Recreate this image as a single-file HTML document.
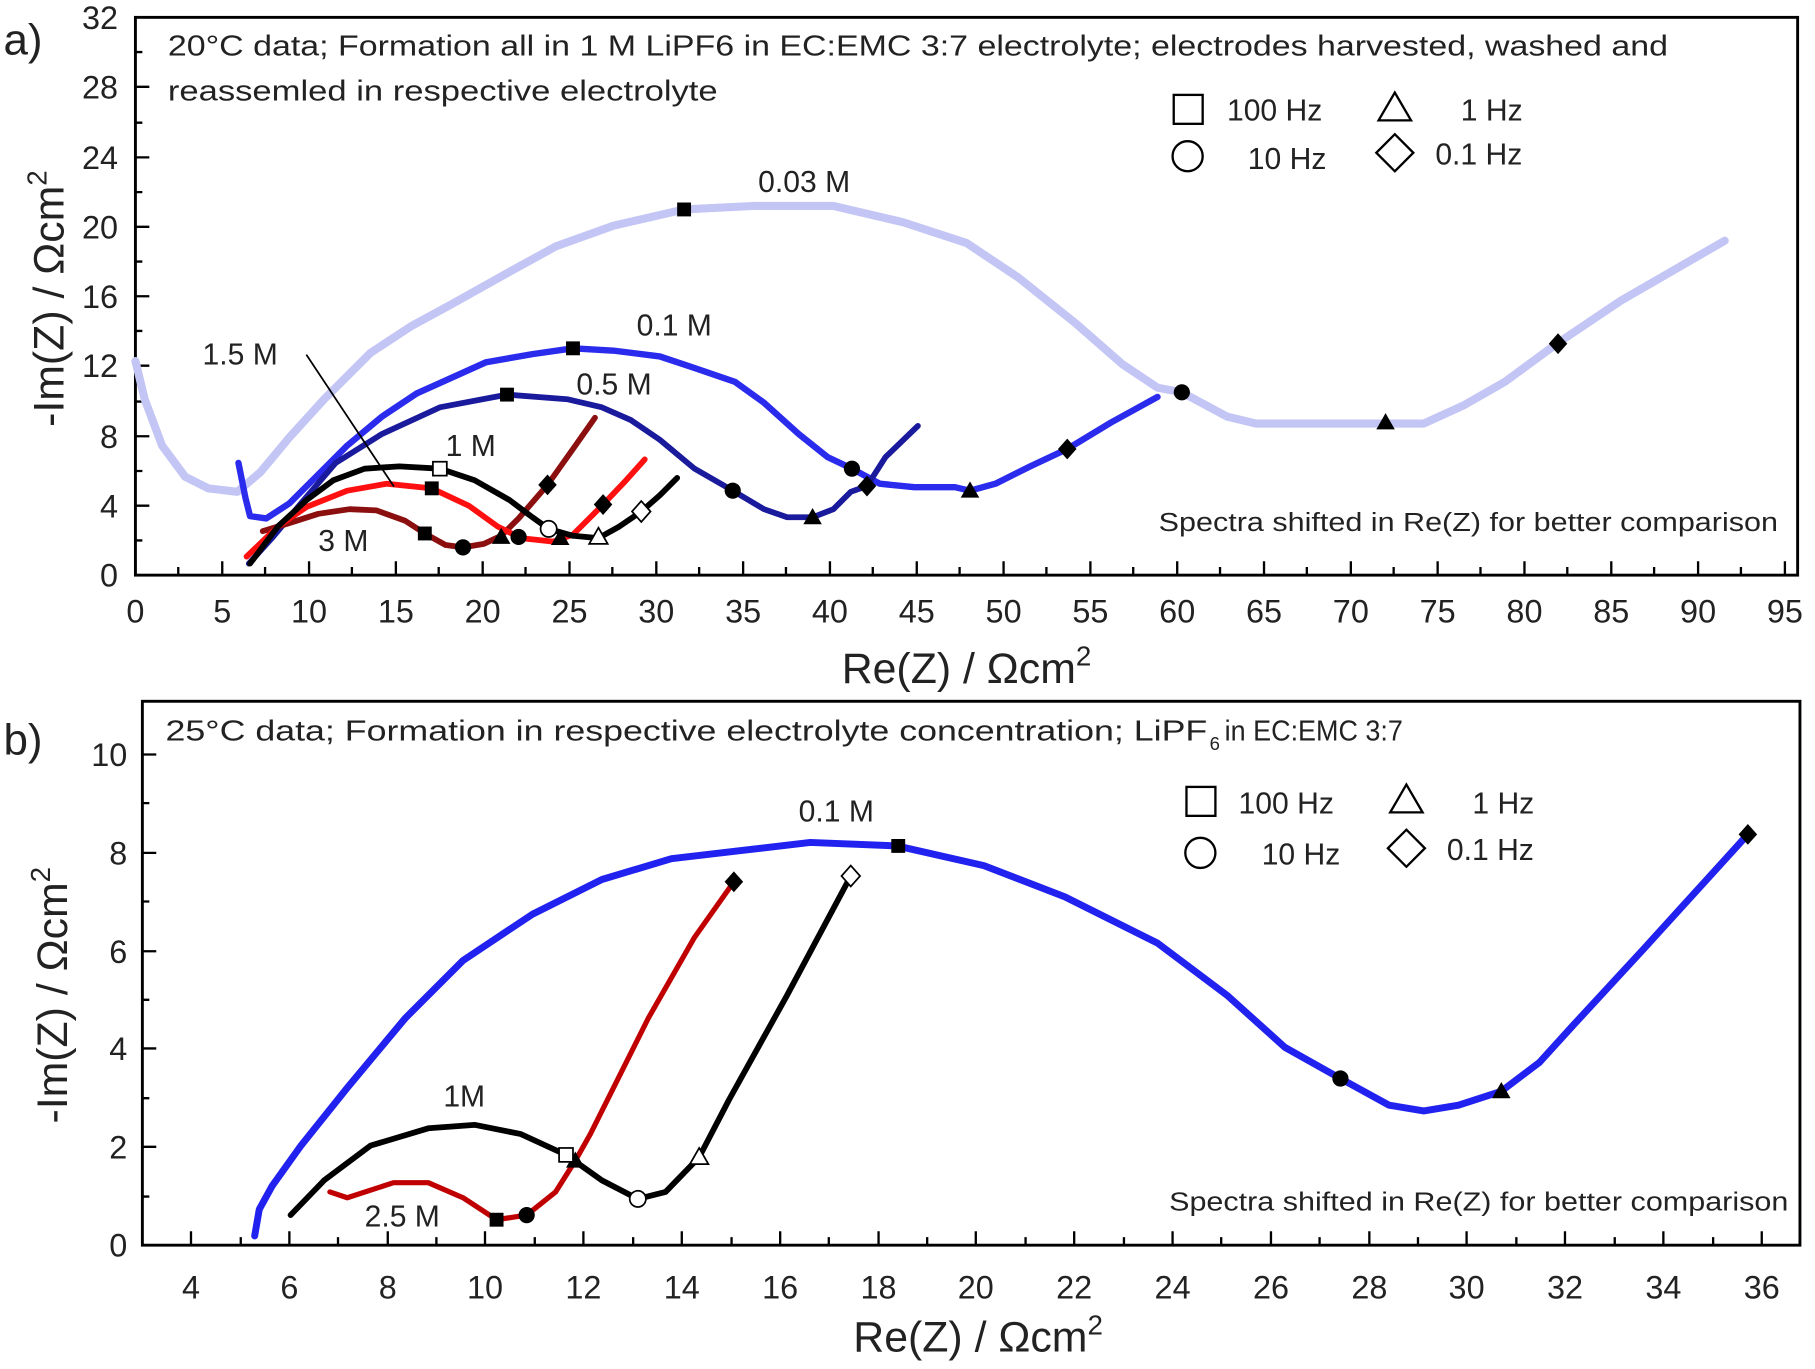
<!DOCTYPE html>
<html><head><meta charset="utf-8"><style>
html,body{margin:0;padding:0;background:#fff;}
svg{display:block;}
text{font-family:"Liberation Sans",sans-serif;fill:#222;}
</style></head><body>
<svg width="1815" height="1369" viewBox="0 0 1568 1183" preserveAspectRatio="none" xmlns="http://www.w3.org/2000/svg">
<defs>
<g id="sq"><rect x="-6" y="-6" width="12" height="12"/></g>
<g id="ci"><circle r="7"/></g>
<g id="tr"><path d="M0,-8 L8,6 L-8,6Z"/></g>
<g id="di"><path d="M0,-9 L8,0 L0,9 L-8,0Z"/></g>
</defs>
<!-- PANEL A -->
<rect x="117" y="15" width="1436" height="482" fill="none" stroke="#000" stroke-width="2.5"/>
<g stroke="#000" stroke-width="2">
<path d="M117,497h12M117,437h12M117,377h12M117,316h12M117,256h12M117,196h12M117,136h12M117,75h12M117,15h12"/>
<path d="M117,467h6M117,407h6M117,347h6M117,286h6M117,226h6M117,166h6M117,106h6M117,45h6"/>
<path d="M117,497v-12M192,497v-12M267,497v-12M342,497v-12M417,497v-12M492,497v-12M567,497v-12M642,497v-12M717,497v-12M792,497v-12M867,497v-12M942,497v-12M1017,497v-12M1092,497v-12M1167,497v-12M1242,497v-12M1317,497v-12M1392,497v-12M1467,497v-12M1542,497v-12"/>
<path d="M154,497v-7M229,497v-7M304,497v-7M379,497v-7M454,497v-7M529,497v-7M604,497v-7M679,497v-7M754,497v-7M829,497v-7M904,497v-7M979,497v-7M1054,497v-7M1129,497v-7M1204,497v-7M1279,497v-7M1354,497v-7M1429,497v-7M1504,497v-7"/>
</g>
<g font-size="28" text-anchor="end">
<text x="102" y="507">0</text><text x="102" y="447">4</text><text x="102" y="387">8</text><text x="102" y="326">12</text><text x="102" y="266">16</text><text x="102" y="206">20</text><text x="102" y="146">24</text><text x="102" y="85">28</text><text x="102" y="25">32</text>
</g>
<g font-size="28" text-anchor="middle">
<text x="117" y="538">0</text><text x="192" y="538">5</text><text x="267" y="538">10</text><text x="342" y="538">15</text><text x="417" y="538">20</text><text x="492" y="538">25</text><text x="567" y="538">30</text><text x="642" y="538">35</text><text x="717" y="538">40</text><text x="792" y="538">45</text><text x="867" y="538">50</text><text x="942" y="538">55</text><text x="1017" y="538">60</text><text x="1092" y="538">65</text><text x="1167" y="538">70</text><text x="1242" y="538">75</text><text x="1317" y="538">80</text><text x="1392" y="538">85</text><text x="1467" y="538">90</text><text x="1542" y="538">95</text>
</g>
<text x="835" y="590" font-size="37" text-anchor="middle">Re(Z) / Ωcm<tspan dy="-15" font-size="24">2</tspan></text>
<text transform="translate(55,258) rotate(-90)" font-size="37" text-anchor="middle">-Im(Z) / Ωcm<tspan dy="-15" font-size="24">2</tspan></text>
<text x="3" y="47" font-size="38">a)</text>
<text x="145" y="48" font-size="25" textLength="1296" lengthAdjust="spacingAndGlyphs">20°C data; Formation all in 1 M LiPF6 in EC:EMC 3:7 electrolyte; electrodes harvested, washed and</text>
<text x="145" y="87" font-size="25" textLength="475" lengthAdjust="spacingAndGlyphs">reassemled in respective electrolyte</text>
<text x="1001" y="459" font-size="22" textLength="535" lengthAdjust="spacingAndGlyphs">Spectra shifted in Re(Z) for better comparison</text>
<g fill="none" stroke-linejoin="round" stroke-linecap="round">
<polyline stroke="#c3c5f5" stroke-width="7" points="117,312 125,345 140,385 160,412 180,422 205,425 225,408 250,378 280,345 320,305 355,282 390,263 440,235 480,213 530,195 591,181 650,178 720,178 780,192 835,210 880,240 930,280 970,315 1000,335 1021,339 1060,360 1085,366 1230,366 1265,350 1300,330 1345,297 1400,260 1490,208"/>
<polyline stroke="#2b2bee" stroke-width="5.5" points="206,400 212,430 216,446 230,448 250,435 275,410 300,385 330,360 360,340 420,313 460,306 495,301 530,303 570,308 600,318 635,330 660,348 690,375 715,395 736,405 760,418 790,421 825,421 838,424 860,418 890,403 922,388 960,365 1000,343"/>
<polyline stroke="#1a1a9c" stroke-width="5" points="215,487 235,465 260,435 290,400 330,375 380,352 438,341 490,345 520,352 545,363 570,380 600,405 633,424 660,440 680,447 702,447 720,440 735,425 749,420 765,395 793,368"/>
<polyline stroke="#8b0f0f" stroke-width="5" points="227,459 250,452 275,444 302,440 325,441 350,450 367,461 385,471 400,473 418,470 433,463 448,448 473,419 495,388 514,361"/>
<polyline stroke="#ff1010" stroke-width="5" points="213,481 240,455 265,438 300,424 334,418 373,422 405,437 430,455 450,465 478,468 495,462 521,436 540,416 557,397"/>
<polyline stroke="#000" stroke-width="5" points="216,487 240,455 265,432 288,415 315,405 345,403 380,405 410,415 440,432 460,447 474,457 495,463 517,465 535,455 554,442 570,428 585,413"/>
<line x1="265" y1="307" x2="340" y2="420" stroke="#000" stroke-width="1.5"/>
</g>
<g fill="#000">
<use href="#sq" x="591" y="181"/><use href="#ci" x="1021" y="339"/><use href="#tr" x="1197" y="365"/><use href="#di" x="1346" y="297"/>
<use href="#sq" x="495" y="301"/><use href="#ci" x="736" y="405"/><use href="#tr" x="838" y="424"/><use href="#di" x="922" y="388"/>
<use href="#sq" x="438" y="341"/><use href="#ci" x="633" y="424"/><use href="#tr" x="702" y="447"/><use href="#di" x="749" y="420"/>
<use href="#sq" x="367" y="461"/><use href="#ci" x="400" y="473"/><use href="#tr" x="433" y="464"/><use href="#di" x="473" y="419"/>
<use href="#sq" x="373" y="422"/><use href="#ci" x="448" y="464"/><use href="#tr" x="484" y="465"/><use href="#di" x="521" y="436"/>
</g>
<g fill="#fff" stroke="#000" stroke-width="1.5">
<use href="#sq" x="380" y="405"/><use href="#ci" x="474" y="457"/><use href="#tr" x="517" y="464"/><use href="#di" x="554" y="442"/>
</g>
<g font-size="26">
<text x="655" y="166">0.03 M</text><text x="550" y="290">0.1 M</text><text x="498" y="341">0.5 M</text><text x="385" y="394">1 M</text><text x="175" y="315">1.5 M</text><text x="275" y="476">3 M</text>
</g>
<g fill="none" stroke="#000" stroke-width="2">
<rect x="1014" y="82" width="25" height="25"/><circle cx="1026" cy="135" r="13"/>
<path d="M1205,80 L1219,104 L1191,104Z"/><path d="M1205,116 L1221,132 L1205,148 L1189,132Z"/>
</g>
<g font-size="26"><text x="1060" y="104">100 Hz</text><text x="1262" y="104">1 Hz</text><text x="1078" y="146">10 Hz</text><text x="1240" y="142">0.1 Hz</text></g>

<!-- PANEL B -->
<rect x="123" y="606" width="1432" height="470" fill="none" stroke="#000" stroke-width="2.5"/>
<g stroke="#000" stroke-width="2">
<path d="M123,1076h12M123,991h12M123,906h12M123,822h12M123,737h12M123,652h12"/>
<path d="M123,1034h6M123,949h6M123,864h6M123,779h6M123,694h6"/>
<path d="M165,1076v-12M250,1076v-12M335,1076v-12M419,1076v-12M504,1076v-12M589,1076v-12M674,1076v-12M759,1076v-12M843,1076v-12M928,1076v-12M1013,1076v-12M1098,1076v-12M1183,1076v-12M1267,1076v-12M1352,1076v-12M1437,1076v-12M1522,1076v-12"/>
<path d="M208,1076v-7M292,1076v-7M377,1076v-7M462,1076v-7M547,1076v-7M632,1076v-7M716,1076v-7M801,1076v-7M886,1076v-7M971,1076v-7M1055,1076v-7M1140,1076v-7M1225,1076v-7M1310,1076v-7M1395,1076v-7M1480,1076v-7"/>
</g>
<g font-size="28" text-anchor="end">
<text x="110" y="1086">0</text><text x="110" y="1001">2</text><text x="110" y="916">4</text><text x="110" y="832">6</text><text x="110" y="747">8</text><text x="110" y="662">10</text>
</g>
<g font-size="28" text-anchor="middle">
<text x="165" y="1122">4</text><text x="250" y="1122">6</text><text x="335" y="1122">8</text><text x="419" y="1122">10</text><text x="504" y="1122">12</text><text x="589" y="1122">14</text><text x="674" y="1122">16</text><text x="759" y="1122">18</text><text x="843" y="1122">20</text><text x="928" y="1122">22</text><text x="1013" y="1122">24</text><text x="1098" y="1122">26</text><text x="1183" y="1122">28</text><text x="1267" y="1122">30</text><text x="1352" y="1122">32</text><text x="1437" y="1122">34</text><text x="1522" y="1122">36</text>
</g>
<text x="845" y="1168" font-size="37" text-anchor="middle">Re(Z) / Ωcm<tspan dy="-15" font-size="24">2</tspan></text>
<text transform="translate(58,860) rotate(-90)" font-size="37" text-anchor="middle">-Im(Z) / Ωcm<tspan dy="-15" font-size="24">2</tspan></text>
<text x="3" y="652" font-size="38">b)</text>
<text x="143" y="640" font-size="25" textLength="900" lengthAdjust="spacingAndGlyphs">25°C data; Formation in respective electrolyte concentration; LiPF</text>
<text x="1045" y="648" font-size="16">6</text>
<text x="1058" y="640" font-size="25" textLength="154" lengthAdjust="spacingAndGlyphs">in EC:EMC 3:7</text>
<text x="1010" y="1046" font-size="22" textLength="535" lengthAdjust="spacingAndGlyphs">Spectra shifted in Re(Z) for better comparison</text>
<g fill="none" stroke-linejoin="round" stroke-linecap="round">
<polyline stroke="#2222f0" stroke-width="6" points="220,1068 224,1045 235,1025 260,990 300,940 350,880 400,830 460,790 520,760 580,742 640,735 700,728 775,731 850,748 920,775 1000,815 1060,860 1110,905 1158,932 1200,955 1230,960 1260,955 1297,943 1330,918 1360,885 1420,820 1470,765 1510,721"/>
<polyline stroke="#000" stroke-width="5" points="251,1050 280,1020 320,990 370,975 410,972 450,980 489,998 520,1020 551,1036 575,1030 604,1000 630,950 680,860 735,757"/>
<polyline stroke="#c00000" stroke-width="4.5" points="285,1030 300,1035 340,1022 370,1022 400,1035 429,1054 455,1050 480,1030 497,1003 510,980 560,880 600,810 634,762"/>
</g>
<g fill="#000">
<use href="#sq" x="776" y="731"/><use href="#ci" x="1158" y="932"/><use href="#tr" x="1297" y="943"/><use href="#di" x="1510" y="721"/>
<use href="#sq" x="429" y="1054"/><use href="#ci" x="455" y="1050"/><use href="#tr" x="497" y="1003"/><use href="#di" x="634" y="762"/>
</g>
<g fill="#fff" stroke="#000" stroke-width="1.5">
<use href="#sq" x="489" y="998"/><use href="#ci" x="551" y="1036"/><use href="#tr" x="604" y="1000"/><use href="#di" x="735" y="757"/>
</g>
<g font-size="26"><text x="690" y="710">0.1 M</text><text x="383" y="956">1M</text><text x="315" y="1060">2.5 M</text></g>
<g fill="none" stroke="#000" stroke-width="2">
<rect x="1025" y="680" width="25" height="25"/><circle cx="1037" cy="737" r="13"/>
<path d="M1215,678 L1229,702 L1201,702Z"/><path d="M1215,717 L1231,733 L1215,749 L1199,733Z"/>
</g>
<g font-size="26"><text x="1070" y="703">100 Hz</text><text x="1272" y="703">1 Hz</text><text x="1090" y="747">10 Hz</text><text x="1250" y="743">0.1 Hz</text></g>
</svg>
</body></html>
